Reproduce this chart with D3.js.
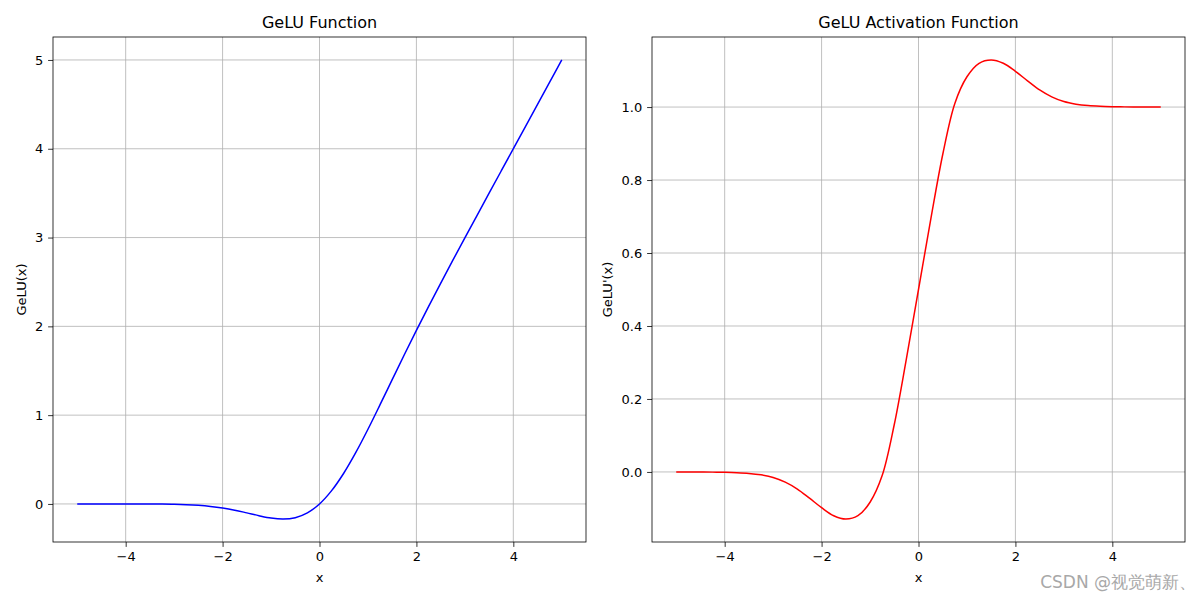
<!DOCTYPE html>
<html>
<head>
<meta charset="utf-8">
<style>
  body { margin: 0; background: #fff; }
  text { font-family: "DejaVu Sans", sans-serif; }
</style>
</head>
<body>
<svg id="chart" width="1200" height="600"></svg>
<script src="https://cdn.jsdelivr.net/npm/d3@7"></script>
<script>
// values
var xs = [-5, -4.75, -4.5, -4.25, -4, -3.75, -3.5, -3.25, -3, -2.75, -2.5, -2.25, -2, -1.75, -1.5, -1.25, -1, -0.75, -0.5, -0.25,
          0, 0.25, 0.5, 0.75, 1, 1.25, 1.5, 1.75, 2, 2.25, 2.5, 2.75, 3, 3.25, 3.5, 3.75, 4, 4.25, 4.5, 4.75, 5];
var gelu = [0, 0, 0, 0, -0.0001, -0.0003, -0.0008, -0.0019, -0.0036, -0.0079, -0.0155, -0.0275, -0.0454, -0.0698, -0.1004, -0.1321, -0.1588, -0.17, -0.1543, -0.1002,
            0, 0.1498, 0.3457, 0.58, 0.8412, 1.1179, 1.3996, 1.6802, 1.9546, 2.2225, 2.4845, 2.7421, 2.9964, 3.2481, 3.4992, 3.7497, 3.9999, 4.25, 4.5, 4.75, 5];
var geluGrad = [0, 0, 0, -0.0005, -0.001, -0.002, -0.004, -0.008, -0.015, -0.028, -0.047, -0.072, -0.098, -0.12, -0.129, -0.12, -0.083, -0.01, 0.13, 0.31,
                0.5, 0.69, 0.87, 1.01, 1.083, 1.12, 1.129, 1.12, 1.098, 1.072, 1.047, 1.028, 1.015, 1.008, 1.004, 1.002, 1.001, 1.0005, 1, 1, 1];
var xTicks = [-4, -2, 0, 2, 4];
var leftTicks = [0, 1, 2, 3, 4, 5];
var rightTicks = [0.0, 0.2, 0.4, 0.6, 0.8, 1.0];

var svg = d3.select("#chart");

function panel(left, labelX, title, ylabel, ys, yDomain, yTicks, yFmt, color) {
  var top = 37, w = 533, h = 505;
  var g = svg.append("g").attr("transform", "translate(" + left + "," + top + ")");
  var x = d3.scaleLinear().domain([-5.5, 5.5]).range([0, w]);
  var y = d3.scaleLinear().domain(yDomain).range([h, 0]);

  // grid
  g.selectAll(".gx").data(xTicks).enter().append("line")
    .attr("x1", d => x(d)).attr("x2", d => x(d)).attr("y1", 0).attr("y2", h)
    .attr("stroke", "#b0b0b0").attr("stroke-width", 0.8);
  g.selectAll(".gy").data(yTicks).enter().append("line")
    .attr("y1", d => y(d)).attr("y2", d => y(d)).attr("x1", 0).attr("x2", w)
    .attr("stroke", "#b0b0b0").attr("stroke-width", 0.8);

  var xa = g.append("g").attr("transform", "translate(0," + h + ")")
    .call(d3.axisBottom(x).tickValues(xTicks).tickSizeOuter(0).tickSize(4.9).tickPadding(4.9)
      .tickFormat(d => d < 0 ? "\u2212" + Math.abs(d) : d));
  var ya = g.append("g")
    .call(d3.axisLeft(y).tickValues(yTicks).tickSizeOuter(0).tickSize(4.9).tickPadding(4.9).tickFormat(yFmt));
  [xa, ya].forEach(a => {
    a.select(".domain").remove();
    a.selectAll("text").attr("font-size", 13).attr("fill", "#000").attr("font-family", "DejaVu Sans");
    a.selectAll("line").attr("stroke", "#000").attr("stroke-width", 0.8);
  });

  g.append("path").datum(xs.map((d, i) => [d, ys[i]]))
    .attr("fill", "none").attr("stroke", color).attr("stroke-width", 1.5)
    .attr("d", d3.line().x(d => x(d[0])).y(d => y(d[1])).curve(d3.curveCatmullRom));

  g.append("rect").attr("width", w).attr("height", h)
    .attr("fill", "none").attr("stroke", "#000").attr("stroke-width", 0.8);

  g.append("text").attr("x", w / 2).attr("y", -9).attr("text-anchor", "middle")
    .attr("font-size", 16).text(title);
  g.append("text").attr("x", w / 2).attr("y", 582 - top).attr("text-anchor", "middle")
    .attr("font-size", 13).text("x");
  g.append("text").attr("transform", "translate(" + (labelX - left) + "," + (h / 2) + ") rotate(-90)")
    .attr("text-anchor", "middle").attr("font-size", 13).text(ylabel);
}

panel(53, 26, "GeLU Function", "GeLU(x)", gelu, [-0.4285, 5.2585], leftTicks, d3.format("d"), "#0000ff");
panel(652, 612, "GeLU Activation Function", "GeLU'(x)", geluGrad, [-0.192, 1.192], rightTicks, d3.format(".1f"), "#ff0000");

svg.append("text").attr("x", 1196).attr("y", 588).attr("text-anchor", "end")
  .attr("font-size", 17).attr("fill", "#a8a8a8")
  .attr("font-family", "'Noto Sans CJK SC', sans-serif").text("CSDN @视觉萌新、");
</script>
</body>
</html>
